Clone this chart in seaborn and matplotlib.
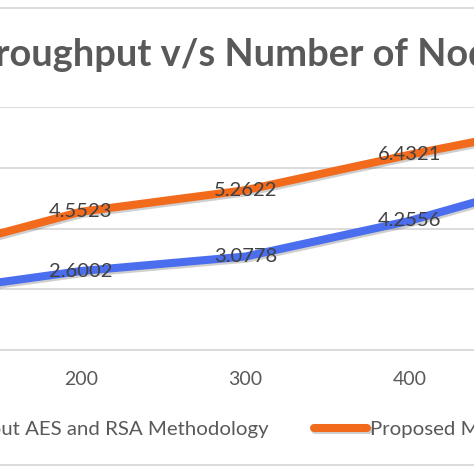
import numpy as np
import pandas as pd
import matplotlib
matplotlib.use("Agg")
import matplotlib.pyplot as plt
import matplotlib.patheffects as pe
from matplotlib.patches import Rectangle
import seaborn as sns

nodes = [100, 200, 300, 400, 500]
without_vals = [1.85, 2.6002, 3.0778, 4.2556, 5.8]
proposed_vals = [3.1, 4.5523, 5.2622, 6.4321, 7.5]
series_names = ["Without AES and RSA Methodology", "Proposed Methodology"]
title_text = "Throughput v/s Number of Nodes"
y_ticks = [0, 2, 4, 6, 8]

df = pd.DataFrame({
    "Nodes": nodes * 2,
    "Throughput": without_vals + proposed_vals,
    "Series": [series_names[0]] * len(nodes) + [series_names[1]] * len(nodes),
})

sns.set_theme(style="white")
plt.rcParams["font.family"] = ["Lato", "DejaVu Sans"]

W = H = 474
fig = plt.figure(figsize=(4.74, 4.74), dpi=100)
fig.patch.set_facecolor("white")

# chart-area border (extends beyond the cropped view)
fig.add_artist(Rectangle((-0.5, 1 - 465 / H), 2.0, (465 - 8) / H,
                         transform=fig.transFigure, fill=False,
                         edgecolor="#D9D9D9", linewidth=1.3))

left = -165.75 / W
width = 822.5 / W
bottom = 1 - 350 / H
top = 1 - 107 / H
ax = fig.add_axes([left, bottom, width, top - bottom])

palette = {series_names[0]: "#4A6EEE", series_names[1]: "#F26B1D"}
sns.lineplot(data=df, x="Nodes", y="Throughput", hue="Series", palette=palette,
             linewidth=5.8, ax=ax, legend=True, solid_capstyle="round")
for ln in ax.lines:
    ln.set_path_effects([pe.SimpleLineShadow(offset=(1.2, -1.5), alpha=0.25, shadow_color="#404040"),
                         pe.Normal()])

ax.set_xlim(50, 550)
ax.set_ylim(0, 8)
ax.set_xticks(nodes)
ax.set_xticklabels([str(n) for n in nodes], fontsize=14, color="#595959")
ax.set_yticks(y_ticks)
ax.set_yticklabels([])
ax.tick_params(axis="both", length=0, pad=15)
ax.grid(axis="y", color="#D9D9D9", linewidth=1.3)
ax.set_axisbelow(True)
for s in ["top", "right", "left"]:
    ax.spines[s].set_visible(False)
ax.spines["bottom"].set_color("#D9D9D9")
ax.spines["bottom"].set_linewidth(1.3)
ax.set_xlabel("")
ax.set_ylabel("")
ax.patch.set_alpha(0)

for vals in (without_vals[1:4], proposed_vals[1:4]):
    for x, v in zip(nodes[1:4], vals):
        ax.text(x, v, f"{v}", ha="center", va="center",
                fontsize=14.5, color="#404040", zorder=5)

handles, labels = ax.get_legend_handles_labels()
ax.get_legend().remove()
leg = fig.legend(handles, labels, loc="center left", ncol=2, frameon=False,
                 bbox_to_anchor=(-0.234, 1 - 429 / H), fontsize=14.7,
                 handlelength=2.6, handletextpad=0.15, columnspacing=2.2,
                 borderpad=0, borderaxespad=0)
for t in leg.get_texts():
    t.set_color("#595959")
for h in leg.legend_handles:
    h.set_linewidth(5.8)

fig.text(-0.1035, 1 - 55 / H, title_text, ha="left", va="center",
         fontsize=27.4, fontweight="bold", color="#595959")

fig.savefig("out.png", dpi=100, facecolor="white")
